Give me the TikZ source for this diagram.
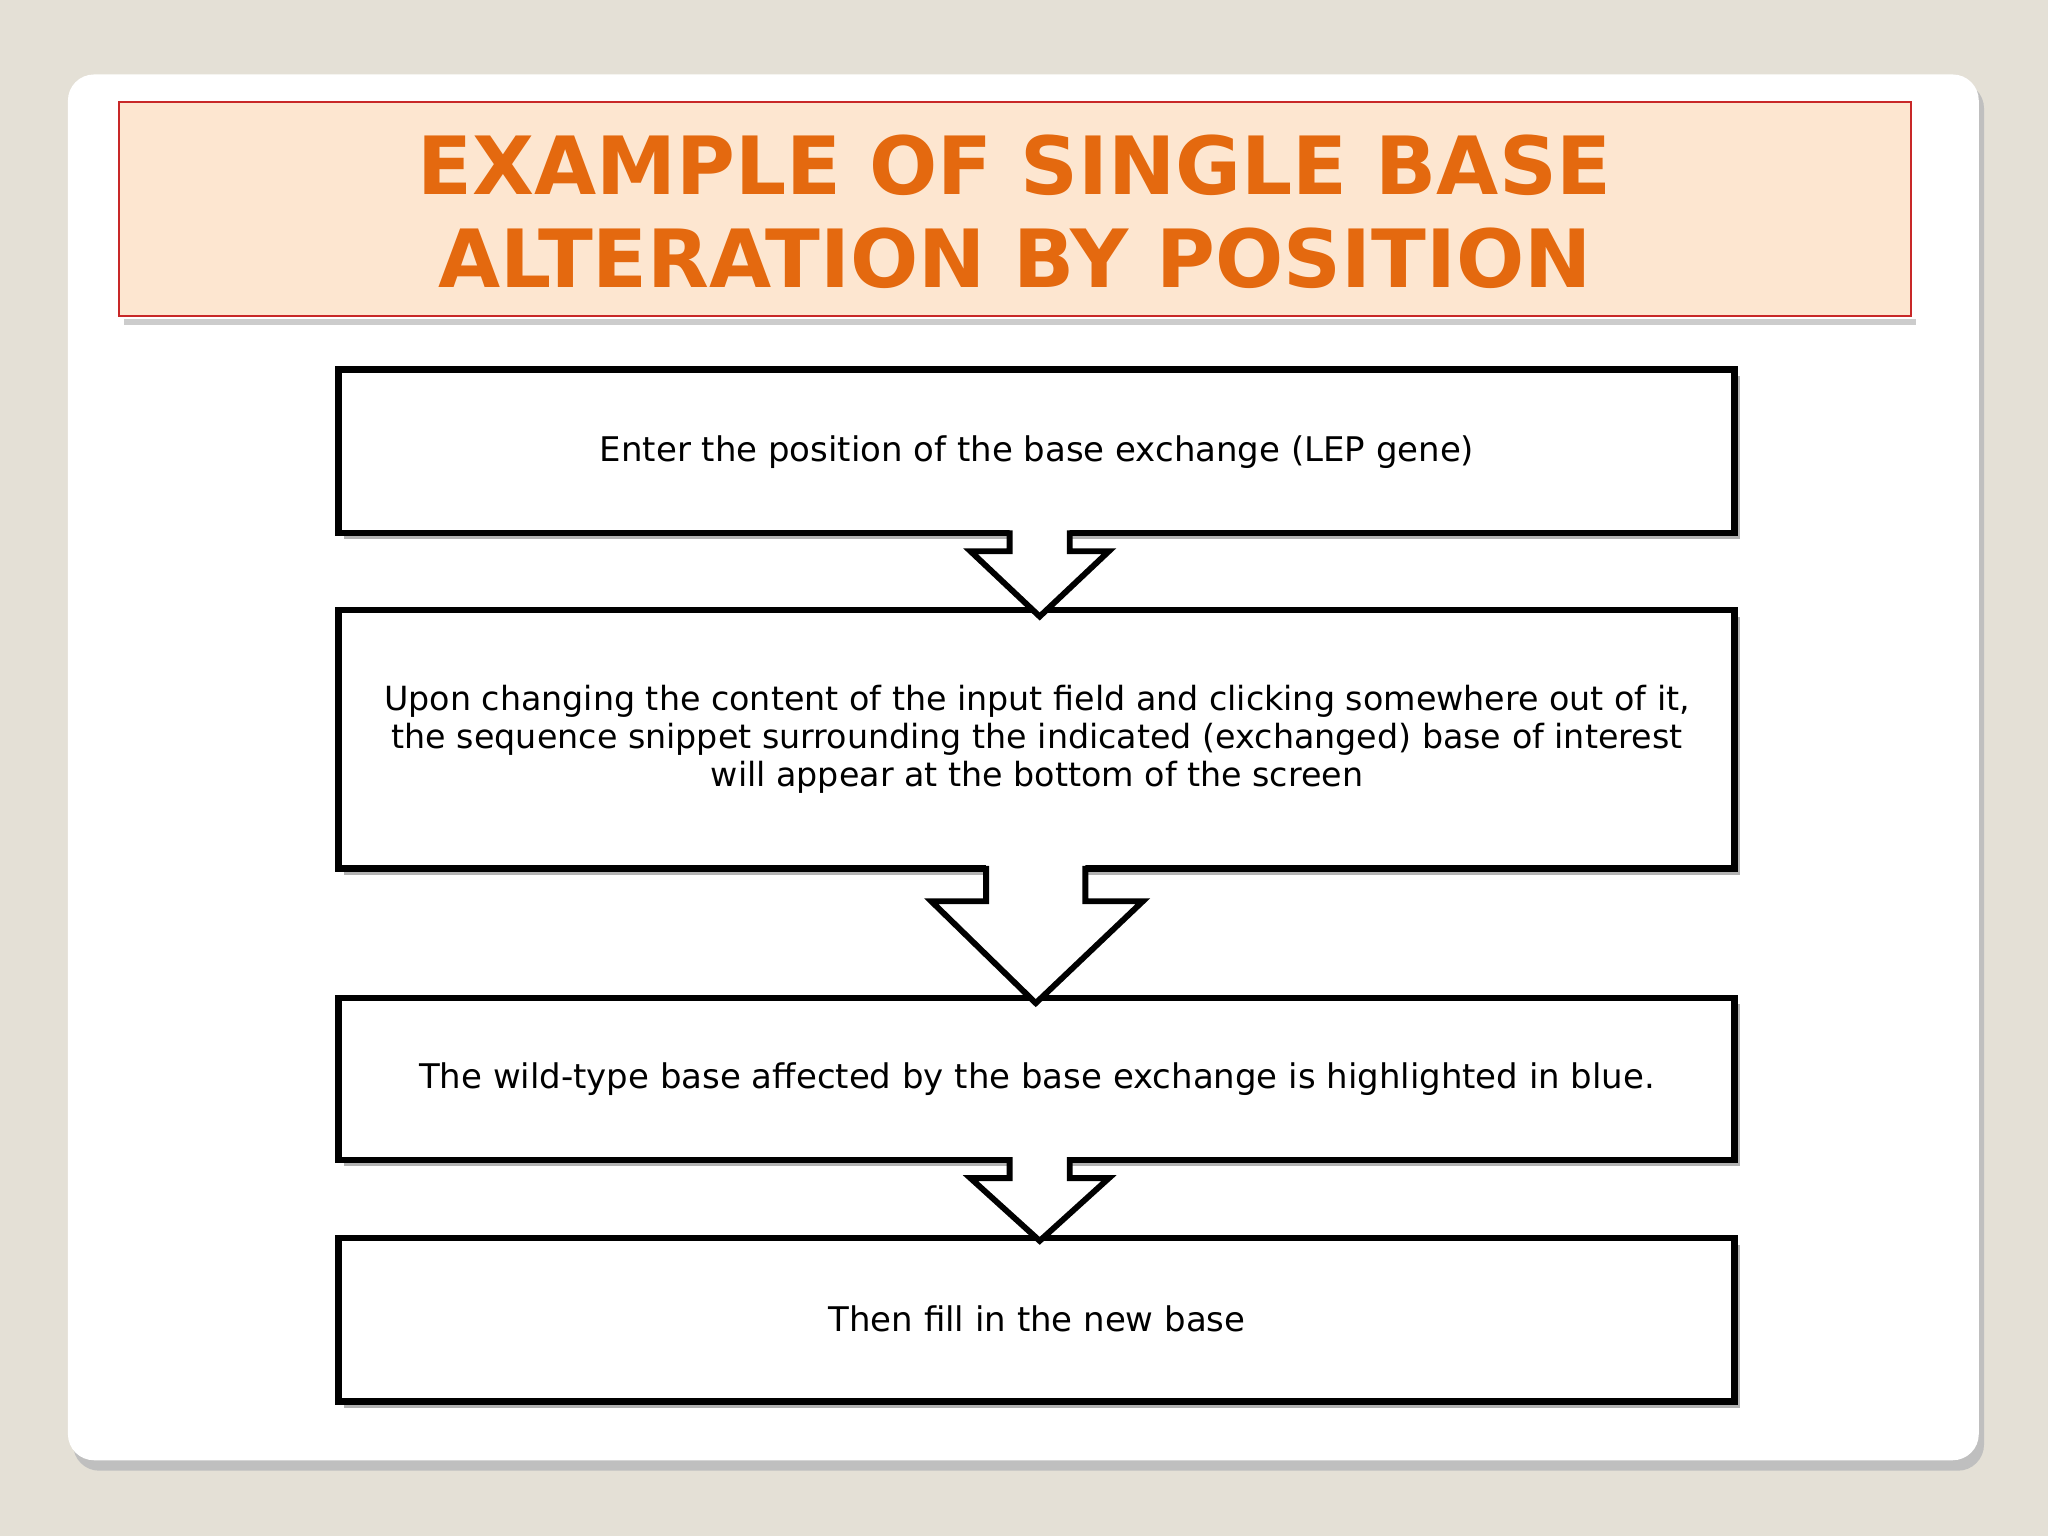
\documentclass[tikz,border=0pt]{standalone}
\usepackage{fontspec}
\setmainfont{DejaVu Sans}
\begin{document}
\begin{tikzpicture}[x=1pt,y=-1pt,
  box/.style={draw=black,line width=5pt,fill=white},
  txt/.style={font=\fontsize{26}{29}\selectfont,align=center},
  arr/.style={line width=4.5pt,line join=miter}]
\fill[fill={rgb,255:red,228;green,224;blue,214}] (0,0) rectangle (1568,1176);
\useasboundingbox (0,0) rectangle (1568,1176);
\fill[black!25,rounded corners=20pt] (56,63) rectangle (1519,1126);
\fill[white,rounded corners=20pt] (52,57) rectangle (1515,1118);
\fill[black!20] (95,244) rectangle (1467,249);
\draw[draw={rgb,255:red,200;green,40;blue,40},line width=1.2pt,fill={rgb,255:red,253;green,230;blue,208}] (91,78) rectangle (1463,242);
\node[font=\fontsize{61.5}{71}\selectfont\bfseries,text={rgb,255:red,228;green,105;blue,15},align=center] (title) at (777,162) {EXAMPLE OF SINGLE BASE\\ALTERATION BY POSITION};
\foreach \a/\b in {283/408,467/665,764/888,948/1073}{
  \fill[black!30] (263,\a+5) rectangle (1332,\b+5);
  \draw[box] (259,\a) rectangle (1328,\b);}
\node[txt] (t1) at (794,346) {Enter the position of the base exchange (LEP gene)};
\node[txt,font=\fontsize{25.5}{29}\selectfont] (t2) at (794,566) {Upon changing the content of the input field and clicking somewhere out of it,\\the sequence snippet surrounding the indicated (exchanged) base of interest\\will appear at the bottom of the screen};
\node[txt] (t3) at (794,826) {The wild-type base affected by the base exchange is highlighted in blue.};
\node[txt] (t4) at (794,1010) {Then fill in the new base};
% arrows
\fill[white] (773,404) -- (773,422) -- (743,422) -- (796,472) -- (849,422) -- (819,422) -- (819,404) -- cycle;
\draw[arr] (773,406) -- (773,422) -- (743,422) -- (796,472) -- (849,422) -- (819,422) -- (819,406);
\fill[white] (755,661) -- (755,690) -- (713,690) -- (793,768) -- (875,690) -- (831,690) -- (831,661) -- cycle;
\draw[arr] (755,663) -- (755,690) -- (713,690) -- (793,768) -- (875,690) -- (831,690) -- (831,663);
\fill[white] (773,884) -- (773,902) -- (743,902) -- (796,950) -- (849,902) -- (819,902) -- (819,884) -- cycle;
\draw[arr] (773,886) -- (773,902) -- (743,902) -- (796,950) -- (849,902) -- (819,902) -- (819,886);
\end{tikzpicture}
\end{document}
